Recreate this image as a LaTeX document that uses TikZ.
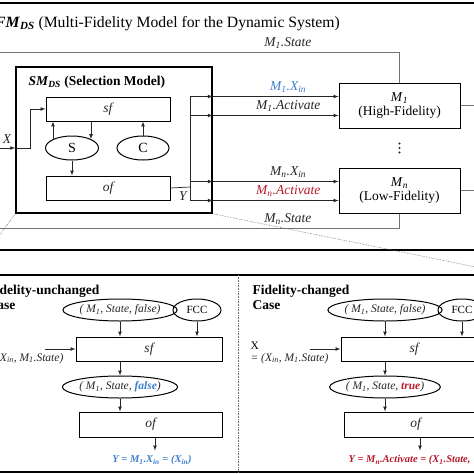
\documentclass[tikz,border=0pt]{standalone}
\usepackage{fontspec}
\setmainfont{Liberation Serif}
\usetikzlibrary{arrows,shapes.geometric}
\definecolor{fblue}{RGB}{60,125,205}
\definecolor{fred}{RGB}{185,25,40}
\newcommand{\ssub}[1]{\textsubscript{\textit{#1}}}

\begin{document}
\begin{tikzpicture}[x=1pt,y=-1pt,
  box/.style={draw,rectangle,line width=1pt,inner sep=0pt},
  oval/.style={draw,ellipse,line width=1pt,inner sep=0pt},
  arr/.style={-latex,line width=0.7pt,black!85},
  wire/.style={line width=0.7pt,black!55},
  frame/.style={line width=1.4pt},
  zoomline/.style={densely dotted,line width=0.6pt,black!55},
  lbl/.style={font=\fontsize{13.5}{15}\selectfont\itshape,text=black!85},
  small/.style={font=\fontsize{11.5}{12}\selectfont\itshape,text=black!85}]
\useasboundingbox (0,0) rectangle (474,474);
%
% FM_DS frame
\draw[frame] (-20,3) -- (494,3);
\draw[frame] (-20,250) -- (494,250);
\node[anchor=base west,inner sep=0pt,font=\fontsize{15.7}{17}\selectfont] (title) at (-5,27)
  {\textbf{\textit{FM}\ssub{DS}} (Multi-Fidelity Model for the Dynamic System)};
%
% selection model
\node[box,line width=1.5pt,minimum width=196pt,minimum height=146pt] (smds) at (114,140) {};
\node[anchor=base west,font=\fontsize{13.5}{15}\selectfont\bfseries] (smtitle) at (25,85)
  {\textit{SM}\ssub{DS} (Selection Model)};
\node[box,minimum width=124pt,minimum height=24pt,lbl] (sf) at (108,109) {sf};
\node[box,minimum width=124pt,minimum height=24pt,lbl] (of) at (108,188) {of};
\node[oval,minimum width=53pt,minimum height=24pt,font=\fontsize{14}{16}\selectfont] (S) at (72,148) {S};
\node[oval,minimum width=52pt,minimum height=24pt,font=\fontsize{14}{16}\selectfont] (C) at (143,148) {C};
\node[lbl] (xlab) at (7,139) {X};
\node[lbl] (ylab) at (183,196) {Y};
\coordinate (xin) at (-20,148);
\coordinate (bus) at (190,187);
\draw[arr] (xin) -- (xin -| smds.west);
\draw[arr] (xin -| smds.west) -- ++(15,0) |- (sf.west);
\draw[arr] (S.155) -- (S.155 |- sf.south);
\draw[arr] (sf.south -| S.25) -- (S.25);
\draw[arr] (C.north) -- (C.north |- sf.south);
\draw[arr] (S.south) -- (S.south |- of.north);
%
% models
\node[box,minimum width=121pt,minimum height=45pt,align=center,font=\fontsize{13.5}{14}\selectfont] (M1) at (399.5,105.5)
  {\textit{M}\ssub{1}\\(High-Fidelity)};
\node[box,minimum width=121pt,minimum height=45pt,align=center,font=\fontsize{13.5}{14}\selectfont] (Mn) at (399.5,190.5)
  {\textit{M}\ssub{n}\\(Low-Fidelity)};
\coordinate (dots) at (399.5,148);
\foreach \d in {-4.5,0,4.5}
  \fill[black!85] ([yshift=\d pt]dots) circle (1.1pt);
\coordinate (p1) at ([yshift=9pt]M1.west);
\coordinate (p2) at ([yshift=-10pt]M1.west);
\coordinate (p3) at ([yshift=9pt]Mn.west);
\coordinate (p4) at ([yshift=-10pt]Mn.west);
\draw[line width=0.7pt,black!85] (of.east) -- (bus);
\draw[line width=0.7pt,black!85] (bus |- p1) -- (bus |- p4);
\foreach \p/\t in {p1/{\textcolor{fblue}{M\ssub{1}.X\ssub{in}}},p2/{M\ssub{1}.Activate},
                   p3/{M\ssub{n}.X\ssub{in}},p4/{\textcolor{fred}{M\ssub{n}.Activate}}}{
  \draw[arr] (\p -| bus) -- (\p -| smds.east);
  \draw[arr] (\p -| smds.east) -- (\p) node[lbl,pos=0.6,above] {\t};
}
\coordinate (fb1) at (-20,52);
\coordinate (fb2) at (-20,228);
\draw[wire] (M1.north) |- (fb1) node[lbl,pos=0.633,above] {M\ssub{1}.State};
\draw[wire] (Mn.south) |- (fb2) node[lbl,pos=0.633,above] {M\ssub{n}.State};
\draw[wire] (M1.east) -- ++(20,0);
\draw[wire] (Mn.east) -- ++(20,0);
\draw[zoomline] (smds.south west) -- ++(-24,33);
\draw[zoomline] (smds.south east) -- ++(290,58.7);
%
% cases
\draw[frame] (-20,275) -- (494,275);
\draw[frame] (-20,472) -- (494,472);
\draw[zoomline] (238,275) -- (238,472);
%
% fidelity-unchanged
\node[anchor=base west,font=\fontsize{13.5}{15}\selectfont\bfseries] (caseL1) at (-16,294) {Fidelity-unchanged};
\node[anchor=base west,font=\fontsize{13.5}{15}\selectfont\bfseries] (caseL2) at (-16,309) {Case};
\node[oval,minimum width=88pt,minimum height=22pt,small] (stL) at (120,310) {( M\ssub{1}, State, false)};
\node[oval,minimum width=48pt,minimum height=22pt,font=\fontsize{11}{12}\selectfont] (fccL) at (197,310) {FCC};
\node[box,minimum width=146pt,minimum height=24pt,lbl] (sfL) at (149,349) {sf};
\node[oval,minimum width=88pt,minimum height=22pt,small] (stL2) at (120,387)
  {( M\ssub{1}, State, \textcolor{fblue}{\bfseries false})};
\node[box,minimum width=143pt,minimum height=25pt,lbl] (ofL) at (150.5,424.5) {of};
\node[anchor=base west,font=\fontsize{11.5}{12}\selectfont] (xL) at (-18,349) {X};
\node[anchor=base west,small] (xinL) at (-18,361) {= (X\ssub{in}, M\ssub{1}.State)};
\coordinate (inL) at (45,349);
\node[font=\fontsize{10.5}{12}\selectfont\bfseries\itshape,text=fblue] (yL) at (152,460)
  {Y = M\ssub{1}.X\ssub{in} = (X\ssub{in})};
\draw[arr] (inL) -- (sfL.west);
\draw[arr] (stL.south) -- (stL.south |- sfL.north);
\draw[arr] (fccL.south) -- (fccL.south |- sfL.north);
\draw[arr] (sfL.south -| stL2.north) -- (stL2.north);
\draw[arr] (stL2.south) -- (stL2.south |- ofL.north);
\draw[arr] ([xshift=4.5pt]ofL.south) -- ++(0,13);
%
% fidelity-changed
\node[anchor=base west,font=\fontsize{13.5}{15}\selectfont\bfseries] (caseR1) at (249,294) {Fidelity-changed};
\node[anchor=base west,font=\fontsize{13.5}{15}\selectfont\bfseries] (caseR2) at (249,309) {Case};
\node[oval,minimum width=88pt,minimum height=22pt,small] (stR) at (385,310) {( M\ssub{1}, State, false)};
\node[oval,minimum width=48pt,minimum height=22pt,font=\fontsize{11}{12}\selectfont] (fccR) at (462,310) {FCC};
\node[box,minimum width=146pt,minimum height=24pt,lbl] (sfR) at (414,349) {sf};
\node[oval,minimum width=88pt,minimum height=22pt,small] (stR2) at (385,387)
  {( M\ssub{1}, State, \textcolor{fred}{\bfseries true})};
\node[box,minimum width=143pt,minimum height=25pt,lbl] (ofR) at (415.5,424.5) {of};
\node[anchor=base west,font=\fontsize{11.5}{12}\selectfont] (xR) at (247,349) {X};
\node[anchor=base west,small] (xinR) at (247,361) {= (X\ssub{in}, M\ssub{1}.State)};
\coordinate (inR) at (310,349);
\node[anchor=west,font=\fontsize{10.5}{12}\selectfont\bfseries\itshape,text=fred] (yR) at (345,460)
  {Y = M\ssub{n}.Activate = (X\ssub{1}.State,};
\draw[arr] (inR) -- (sfR.west);
\draw[arr] (stR.south) -- (stR.south |- sfR.north);
\draw[arr] (fccR.south) -- (fccR.south |- sfR.north);
\draw[arr] (sfR.south -| stR2.north) -- (stR2.north);
\draw[arr] (stR2.south) -- (stR2.south |- ofR.north);
\draw[arr] ([xshift=4.5pt]ofR.south) -- ++(0,13);
\end{tikzpicture}
\end{document}
